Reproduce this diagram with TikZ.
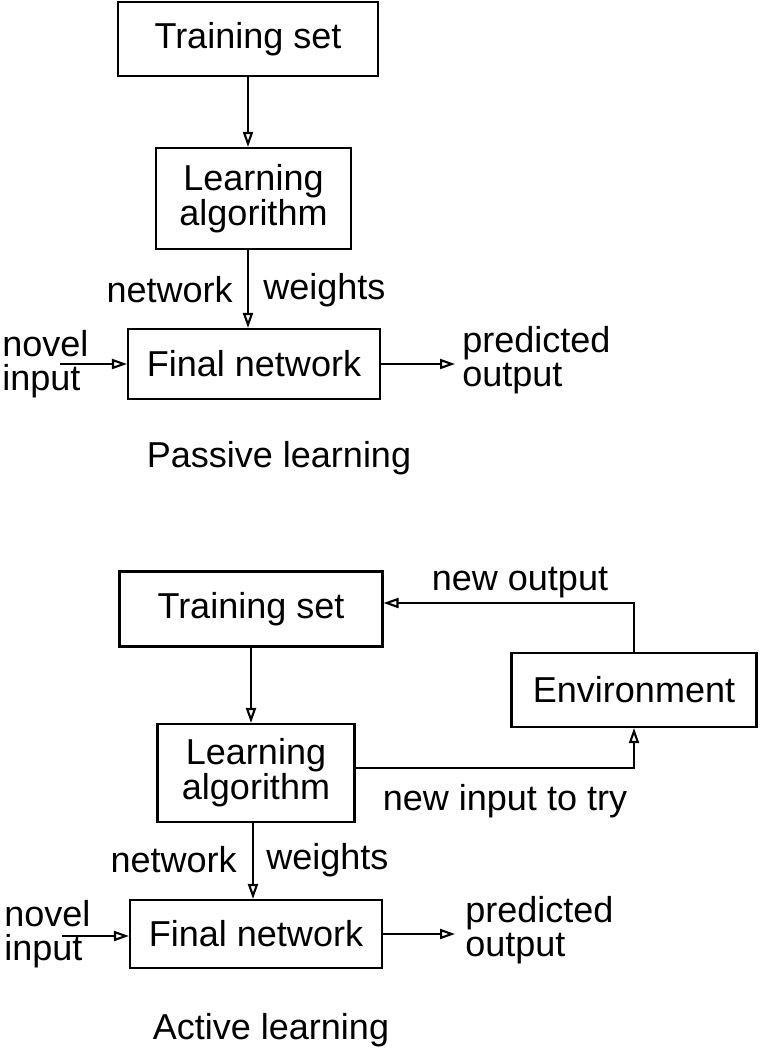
\documentclass[tikz,border=0pt]{standalone}
\usepackage{fontspec}
\setmainfont{Liberation Sans}
\usetikzlibrary{arrows.meta}
\tikzset{box/.style={draw, line width=1.2pt, inner sep=0pt, align=center}}
\tikzset{lbl/.style={inner sep=0pt, align=left}}
\tikzset{flow/.style={line width=1.2pt, -{Triangle[open, length=0.3cm, width=0.2cm]}}}
\begin{document}
\begin{tikzpicture}[x=0.02cm, y=-0.02cm, font=\fontsize{20.5}{19}\selectfont]
\useasboundingbox (0,0) rectangle (763,1049);

% passive learning
\node[box, minimum width=5.2cm, minimum height=1.48cm] (train1) at (248,39) {Training set};
\node[box, minimum width=3.9cm, minimum height=2.02cm] (learn1) at (253.5,198.5) {Learning\\algorithm};
\node[box, minimum width=5.04cm, minimum height=1.4cm] (final1) at (254,364) {Final network};
\node[lbl, anchor=east] (net1) at (233,290) {network};
\node[lbl, anchor=west] (wgt1) at (263,290) {weights};
\node[lbl, anchor=west] (novel1) at (2,364) {novel\\input};
\node[lbl, anchor=west] (pred1) at (462,360) {predicted\\output};
\node[lbl] (cap1) at (279,458) {Passive learning};
\coordinate (in1) at (60,364);
\coordinate (out1) at (455,364);
\draw[flow] (train1.south -| 248,0) -- (learn1.north -| 248,0);
\draw[flow] (learn1.south -| 248,0) -- (final1.north -| 248,0);
\draw[flow] (in1) -- (final1.west);
\draw[flow] (final1.east) -- (out1);

% active learning
\node[box, minimum width=5.26cm, minimum height=1.5cm] (train2) at (251,609) {Training set};
\node[box, minimum width=4.9cm, minimum height=1.48cm] (env) at (634,690) {Environment};
\node[box, minimum width=3.94cm, minimum height=1.96cm] (learn2) at (256,773) {Learning\\algorithm};
\node[box, minimum width=5.04cm, minimum height=1.36cm] (final2) at (256,934) {Final network};
\node[lbl, anchor=east] (net2) at (237,860) {network};
\node[lbl, anchor=west] (wgt2) at (266,860) {weights};
\node[lbl, anchor=west] (novel2) at (4,934) {novel\\input};
\node[lbl, anchor=west] (pred2) at (465,930) {predicted\\output};
\node[lbl] (newout) at (520,583) {new output};
\node[lbl] (newin) at (505,801) {new input to try};
\node[lbl] (cap2) at (271,1030) {Active learning};
\coordinate (in2) at (62,936);
\coordinate (out2) at (455,934);
\draw[flow] (train2.south -| 251,0) -- (learn2.north -| 251,0);
\draw[flow] (learn2.south -| 253,0) -- (final2.north -| 253,0);
\draw[flow] (in2) -- (final2.west |- in2);
\draw[flow] (final2.east) -- (out2);
\draw[flow] (env.north) |- (train2.east |- 0,603);
\draw[flow] (learn2.east |- 0,768) -| (env.south);
\end{tikzpicture}
\end{document}
